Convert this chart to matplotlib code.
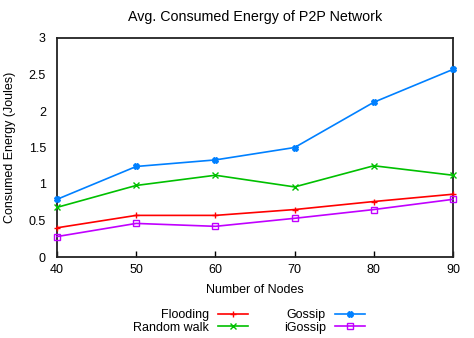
import matplotlib.pyplot as plt
from matplotlib.lines import Line2D

plt.rcParams["font.family"] = ["Liberation Sans", "DejaVu Sans"]

nodes = [40, 50, 60, 70, 80, 90]
flooding = [0.40, 0.57, 0.57, 0.65, 0.76, 0.86]
random_walk = [0.68, 0.98, 1.12, 0.96, 1.25, 1.12]
gossip = [0.79, 1.24, 1.33, 1.50, 2.12, 2.57]
igossip = [0.28, 0.46, 0.42, 0.53, 0.65, 0.79]

series = [
    ("Flooding", flooding, "#ff0000", "+", "none", 5),
    ("Random walk", random_walk, "#00c000", "x", "none", 4.5),
    ("Gossip", gossip, "#0080ff", "X", "#0080ff", 4),
    ("iGossip", igossip, "#c000ff", "s", "none", 4.5),
]

fig = plt.figure(figsize=(4.74, 3.38), dpi=100)
ax = fig.add_axes([57 / 474, 1 - 257 / 338, 396 / 474, 219 / 338])

for name, vals, color, mk, fc, ms in series:
    ax.plot(nodes, vals, color=color, lw=1.2, marker=mk, ms=ms,
            mfc=fc, mec=color, mew=1.0, clip_on=False, zorder=3)

ax.set_xlim(40, 90)
ax.set_ylim(0, 3)
ax.set_xticks(nodes)
ax.set_yticks([0, 0.5, 1, 1.5, 2, 2.5, 3])
ax.set_yticklabels(["0", "0.5", "1", "1.5", "2", "2.5", "3"])
ax.tick_params(axis="x", direction="in", length=4, width=1, labelsize=9, pad=5)
ax.tick_params(axis="y", length=0, labelsize=9, pad=8)
for sp in ax.spines.values():
    sp.set_linewidth(1.3)
    sp.set_color("#222222")

ax.set_xlabel("Number of Nodes", fontsize=9, labelpad=6)
ax.set_ylabel("Consumed Energy (Joules)", fontsize=9, labelpad=9)
ax.set_title("Avg. Consumed Energy of P2P Network", fontsize=10.3, pad=12)

# legend in two columns under the plot, text on the left of each sample
handles = [Line2D([], [], color=c, lw=1.2, marker=m, ms=s, mfc=f, mec=c, mew=1.0)
           for _, _, c, m, f, s in series]
labels = [s[0] for s in series]
fig.legend(handles, labels, loc="lower center", bbox_to_anchor=(0.525, -0.02),
           ncol=2, frameon=False, fontsize=9, markerfirst=False,
           handlelength=2.4, handletextpad=0.7, columnspacing=2.9,
           labelspacing=0.05)

fig.savefig("out.png", dpi=100)
